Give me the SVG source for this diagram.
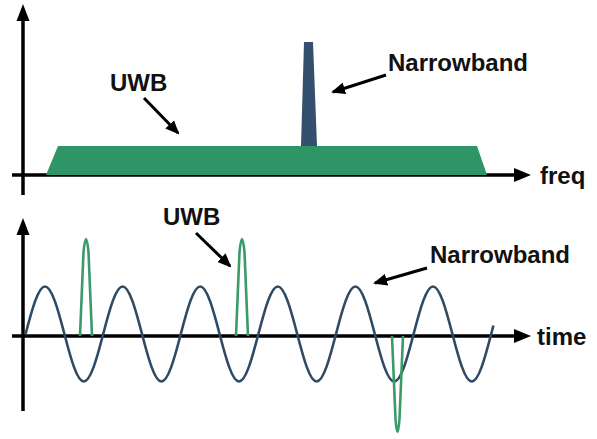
<svg xmlns="http://www.w3.org/2000/svg" width="597" height="439" viewBox="0 0 597 439">
<defs>
<style>
.lbl{font-family:"Liberation Sans",Arial,sans-serif;font-weight:bold;font-size:24px;fill:#111}
.axis{stroke:#000;stroke-width:3.5;fill:none}
.ptr{stroke:#000;stroke-width:3;fill:none;marker-end:url(#ah)}
.wave{stroke:#2f4a63;stroke-width:2.6;fill:none}
.pulse{stroke:#3a9a6a;stroke-width:2.6;fill:none;stroke-linejoin:round}
</style>
<marker id="ah" markerUnits="userSpaceOnUse" markerWidth="14" markerHeight="12" refX="12" refY="6" orient="auto">
<path d="M0,0 L14,6 L0,12 z" fill="#000"/>
</marker>
</defs>
<rect width="597" height="439" fill="#fff"/>
<g id="top-axes">
<line class="axis" x1="23" y1="195" x2="23" y2="18"/>
<polygon points="23,4 16.5,21 29.5,21" fill="#000"/>
<line class="axis" x1="12" y1="175" x2="516" y2="175"/>
<polygon points="531,175 514,168 514,182" fill="#000"/>
</g>
<g id="uwb-spectrum">
<polygon points="46,175 58,146 477,146 487,175" fill="#2f9466"/>
</g>
<g id="narrowband-spectrum">
<polygon points="304,42 313,42 317,146 301,146" fill="#35506e"/>
</g>
<g id="bottom-axes">
<line class="axis" x1="23" y1="411" x2="23" y2="232"/>
<polygon points="23,218 16.5,235 29.5,235" fill="#000"/>
<line class="axis" x1="12" y1="336" x2="516" y2="336"/>
<polygon points="531,336 514,329 514,343" fill="#000"/>
</g>
<g id="narrowband-wave">
<path class="wave" d="M25.6,334 c6.32,-24.33 12.62,-47.5 19.4,-47.5 s13.08,23.17 19.4,47.5 s12.62,47.5 19.4,47.5 s13.08,-23.17 19.4,-47.5
s12.62,-47.5 19.4,-47.5 s13.08,23.17 19.4,47.5 s12.62,47.5 19.4,47.5 s13.08,-23.17 19.4,-47.5
s12.62,-47.5 19.4,-47.5 s13.08,23.17 19.4,47.5 s12.62,47.5 19.4,47.5 s13.08,-23.17 19.4,-47.5
s12.62,-47.5 19.4,-47.5 s13.08,23.17 19.4,47.5 s12.62,47.5 19.4,47.5 s13.08,-23.17 19.4,-47.5
s12.62,-47.5 19.4,-47.5 s13.08,23.17 19.4,47.5 s12.62,47.5 19.4,47.5 s13.08,-23.17 19.4,-47.5
s12.62,-47.5 19.4,-47.5 s13.08,23.17 19.4,47.5 s12.62,47.5 19.4,47.5 s13.08,-23.17 19.4,-47.5
l2.2,-8.5"/>
</g>
<g id="uwb-pulses">
<path class="pulse" d="M80,336 L83.5,252 Q86,226 88.5,252 L92,336"/>
<path class="pulse" d="M236,336 L239.5,252 Q242,226 244.5,252 L248,336"/>
<path class="pulse" d="M392,336 L395.5,419 Q397.5,445 399.5,419 L403,336"/>
</g>
<g id="labels">
<text class="lbl" x="110" y="91">UWB</text>
<text class="lbl" x="388" y="71">Narrowband</text>
<text class="lbl" x="540" y="184">freq</text>
<text class="lbl" x="163" y="225">UWB</text>
<text class="lbl" x="430" y="263">Narrowband</text>
<text class="lbl" x="537" y="345">time</text>
</g>
<g id="connectors">
<line class="ptr" x1="144" y1="98" x2="178" y2="133"/>
<line class="ptr" x1="386" y1="75" x2="333" y2="92"/>
<line class="ptr" x1="196" y1="233" x2="230" y2="266"/>
<line class="ptr" x1="427" y1="268" x2="375" y2="283"/>
</g>
</svg>
